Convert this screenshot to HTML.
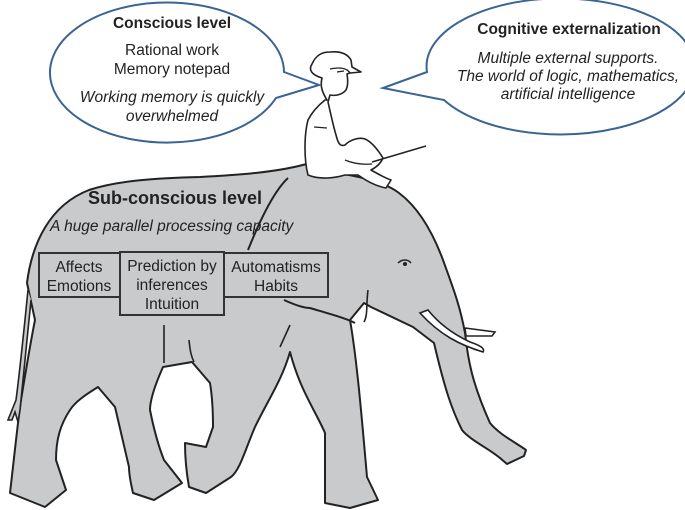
<!DOCTYPE html>
<html><head><meta charset="utf-8"><style>
html,body{margin:0;padding:0;background:#fff;}
svg{display:block;}
text{font-family:"Liberation Sans",Arial,sans-serif;fill:#222;}
</style></head><body>
<svg width="685" height="510" viewBox="0 0 685 510" xmlns="http://www.w3.org/2000/svg">
<!-- elephant body -->
<path d="M27,283 C32,243 50,205 89,190 C120,180 160,178 200,177 C240,175 280,172 310,163 L330,172
C360,176 385,182 399,193 C415,205 430,225 443,260 C452,285 460,305 465,333 C468,360 472,383 490,423
C500,435 515,442 526,450 L524,456 L507,464 L500,458 C488,448 470,440 462,430 C452,410 445,390 434,343
L413,327 L371,307 L364,303 L350,320 C357,360 362,420 367,477 L378,500 L350,508 L325,503
C325,460 325,440 325,433 C315,410 300,390 290,352 C282,380 268,400 255,427 C245,450 240,470 231,477
L206,493 L189,487 C186,470 185,455 185,443 L206,447 L213,427 C213,410 212,395 210,383 L192,362 L163,367
C155,385 150,400 150,410 C155,435 160,450 164,460 L182,483 L154,500 L133,493 C130,480 129,470 129,467
L115,407 L98,387 C85,395 75,402 70,410 C60,425 56,440 56,460 L66,490 L45,507 L10,493
C15,450 18,420 21,400 C26,370 30,345 35,320 Z"
 fill="#c9cacc" stroke="#222" stroke-width="2" stroke-linejoin="round"/>
<!-- tail -->
<path d="M28,290 C24,330 20,370 16,400 L8,420 L12,420 L15,412 L18,422 L20,410 C23,380 27,340 31,300" fill="#c9cacc" stroke="#222" stroke-width="1.6"/>
<!-- ear / head lines -->
<path d="M288,178 C275,190 262,215 248,250" fill="none" stroke="#222" stroke-width="2"/>
<path d="M284,300 C295,305 305,308 310,308 C330,314 345,318 355,323" fill="none" stroke="#222" stroke-width="2"/>
<path d="M368,290 C366,305 368,315 364,322" fill="none" stroke="#222" stroke-width="1.6"/>
<path d="M164,325 L164,363 M189,340 C190,350 191,356 194,362 M290,325 L280,347" fill="none" stroke="#222" stroke-width="1.6"/>
<!-- tusks -->
<path d="M420,313 C440,335 460,345 483,352 C485,349 482,346 470,342 C455,335 440,325 428,310 Z" fill="#fff" stroke="#222" stroke-width="1.6"/>
<path d="M465,328 L495,332 L492,336 L466,336 Z" fill="#fff" stroke="#222" stroke-width="1.6"/>
<!-- eye -->
<path d="M398,263 C402,259 408,259 411,263" fill="none" stroke="#222" stroke-width="1.5"/>
<circle cx="405" cy="264" r="2" fill="#222"/>
<!-- man -->
<path d="M308,175 C304,160 304,135 308,120 C313,110 320,104 325,100 L327,100 C322,92 320,86 322,78 C312,75 308,70 312,64 C316,55 322,52 330,52 C340,51 347,53 351,60 L352,67 L361,72 L350,73 L347,74 C348,80 348,86 346,90 C342,95 335,96 330,95 L328,102 C331,115 333,125 336,135 C338,143 340,147 345,145 C350,140 358,137 365,139 C372,142 378,150 383,158 C380,165 375,168 371,170 C378,174 385,178 391,180 L386,188 C375,186 365,180 358,175 L345,175 C335,178 320,180 308,175 Z" fill="#fff" stroke="#222" stroke-width="1.6" stroke-linejoin="round"/>
<path d="M345,160 C352,163 360,165 372,164 M327,128 L314,127 M350,73 C347,68 340,67 330,69 M344,71 L337,72" fill="none" stroke="#222" stroke-width="1.3"/>
<path d="M372,162 L426,146" stroke="#222" stroke-width="1.5"/>
<!-- speech bubbles -->
<path d="M284,72 L319,85 L276,98 A117,70 0 1 1 284,72 Z" fill="#fff" stroke="#3a6494" stroke-width="2" stroke-linejoin="miter"/>
<path d="M427,72 L383,88 L444,100 A134,68 0 1 0 427,72 Z" fill="#fff" stroke="#3a6494" stroke-width="2" stroke-linejoin="miter"/>
<!-- bubble text -->
<g text-anchor="middle" font-size="15.5">
<text x="172" y="28" font-weight="bold">Conscious level</text>
<text x="172" y="55">Rational work</text>
<text x="172" y="74">Memory notepad</text>
<text x="172" y="102" font-style="italic">Working memory is quickly</text>
<text x="172" y="121" font-style="italic">overwhelmed</text>
<text x="569" y="34" font-weight="bold">Cognitive externalization</text>
<text x="568" y="63" font-style="italic">Multiple external supports.</text>
<text x="568" y="81" font-style="italic">The world of logic, mathematics,</text>
<text x="568" y="99" font-style="italic">artificial intelligence</text>
</g>
<text x="88" y="204" font-size="18" font-weight="bold">Sub-conscious level</text>
<text x="50" y="231" font-size="15.5" font-style="italic">A huge parallel processing capacity</text>
<!-- boxes -->
<g fill="#c9cacc" stroke="#333" stroke-width="2">
<rect x="39" y="253" width="81" height="44"/>
<rect x="224" y="253" width="104" height="44"/>
<rect x="120" y="252" width="104" height="63"/>
</g>
<g text-anchor="middle" font-size="15.5">
<text x="79" y="272">Affects</text>
<text x="79" y="291">Emotions</text>
<text x="172" y="271">Prediction by</text>
<text x="172" y="290">inferences</text>
<text x="172" y="309">Intuition</text>
<text x="276" y="272">Automatisms</text>
<text x="276" y="291">Habits</text>
</g>
</svg>
</body></html>
